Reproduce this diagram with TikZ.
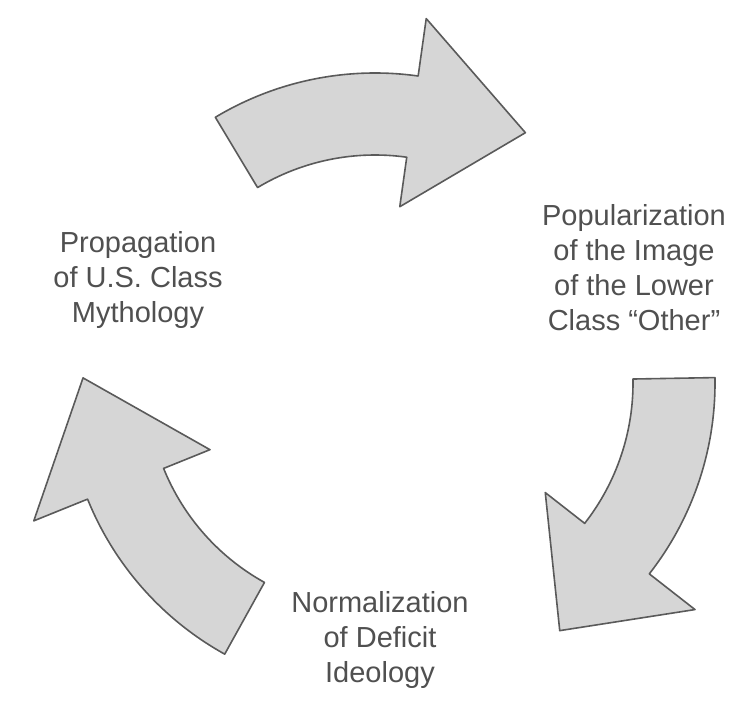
\documentclass[tikz,border=0pt]{standalone}
\usepackage{fontspec}
\setmainfont{Liberation Sans}
\definecolor{arrfill}{HTML}{D6D6D6}
\definecolor{arredge}{HTML}{5A5A5A}
\definecolor{txt}{HTML}{505050}
\newcommand\mycarrow[3]{% tail angle, head base angle, tip angle
  \filldraw[arrowshape] (#1:310) arc[start angle=#1, end angle=#2, radius=310]
    -- (#2:368) -- (#3:292) -- (#2:178) -- (#2:228)
    arc[start angle=#2, end angle=#1, radius=228] -- cycle;}
\begin{document}
\begin{tikzpicture}[x=1pt,y=1pt,
  arrowshape/.style={fill=arrfill,draw=arredge,line width=1.6pt,line join=round},
  lbl/.style={text=txt,align=center,font=\fontsize{29}{35}\selectfont}]
\useasboundingbox (0,0) rectangle (746,716);
\begin{scope}[shift={(375,333)}]
\mycarrow{121}{82}{59}
\begin{scope}[shift={(30,0)}]
\mycarrow{1}{-38}{-58}
\end{scope}
\mycarrow{241}{202}{179}
\end{scope}
\node[lbl] (prop) at (138,436) {Propagation\\of U.S. Class\\Mythology};
\node[lbl] (pop) at (634,448) {Popularization\\of the Image\\of the Lower\\Class “Other”};
\node[lbl] (norm) at (380,76) {Normalization\\of Deficit\\Ideology};
\end{tikzpicture}
\end{document}
